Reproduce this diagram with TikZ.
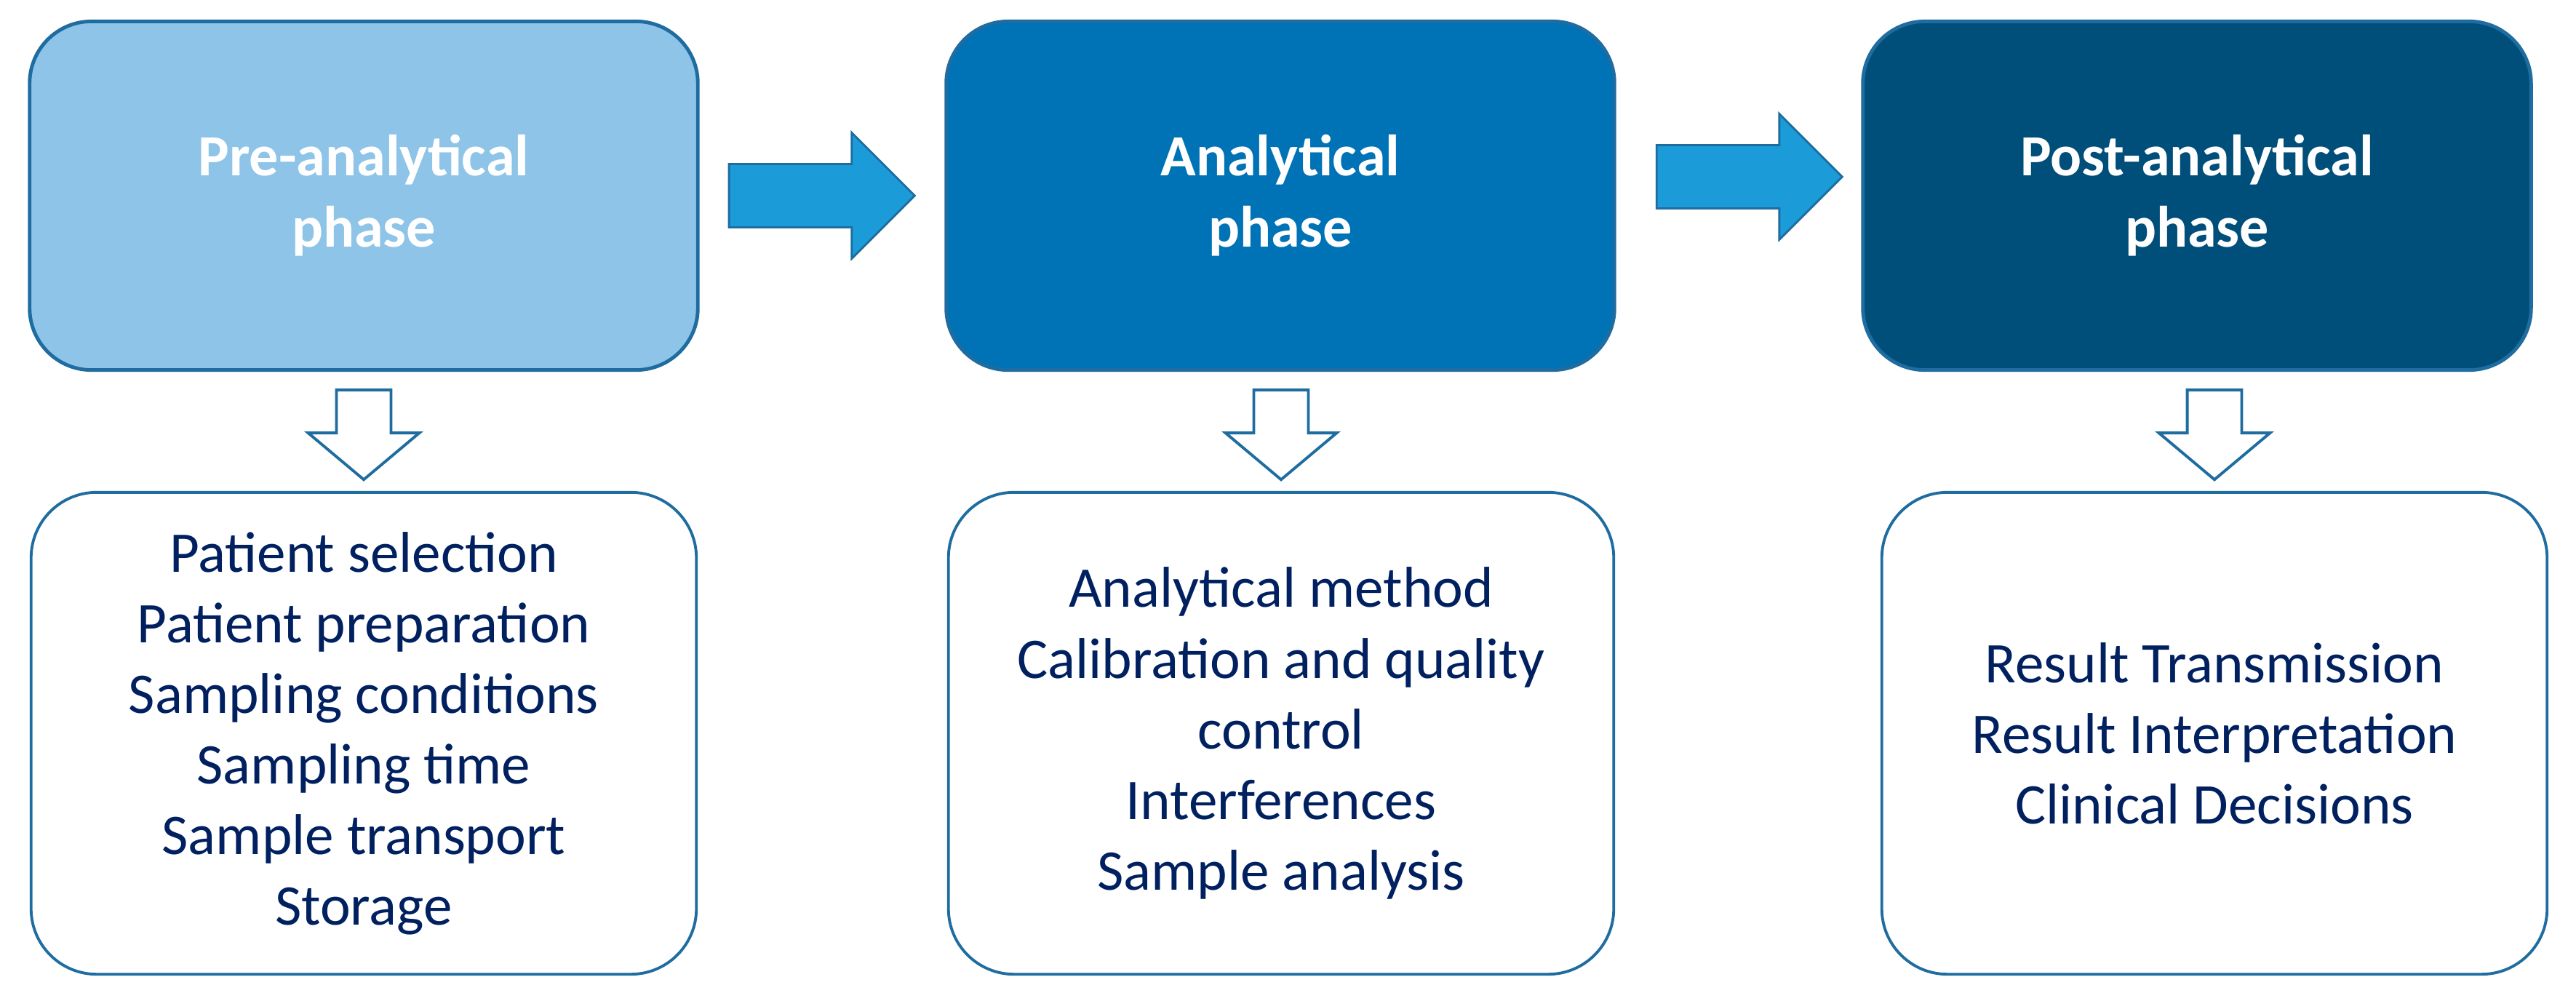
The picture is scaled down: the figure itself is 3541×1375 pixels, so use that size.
\documentclass[tikz,border=0pt]{standalone}
\usepackage{fontspec}
\setmainfont{Carlito}
\usetikzlibrary{shapes.arrows,calc}
\definecolor{phaseA}{RGB}{141,196,232}
\definecolor{phaseB}{RGB}{0,114,182}
\definecolor{phaseC}{RGB}{0,78,122}
\definecolor{edgeblue}{RGB}{31,108,160}
\definecolor{arrowblue}{RGB}{27,155,215}
\definecolor{navy}{RGB}{0,32,96}
\begin{document}
\begin{tikzpicture}[x=0.01cm, y=-0.01cm,
        phase/.style={rounded corners=0.85cm, draw=edgeblue, line width=1.4pt,
            minimum width=9.18cm, minimum height=4.79cm, align=center, text=white,
            font=\fontsize{22.8}{27.9}\selectfont\bfseries},
        steps/.style={rounded corners=0.9cm, draw=edgeblue, line width=1.1pt, fill=white,
            minimum width=9.14cm, minimum height=6.62cm, align=center, text=navy,
            font=\fontsize{22.5}{27.6}\selectfont},
        nextarrow/.style={single arrow, fill=arrowblue, draw=edgeblue, line width=0.8pt,
            minimum height=2.55cm, minimum width=1.7cm, single arrow head extend=0.43cm,
            single arrow tip angle=90, inner xsep=0pt, inner ysep=0.42cm},
        downarrow/.style={single arrow, fill=white, draw=edgeblue, line width=1.1pt,
            rotate=-90, minimum height=1.23cm, minimum width=1.49cm,
            single arrow head extend=0.39cm, single arrow tip angle=100,
            inner xsep=0pt, inner ysep=0.355cm}]
        \useasboundingbox (0,0) rectangle (3541,1375);
        \node[phase, fill=phaseA] (pre) at (500,269) {Pre-analytical\\phase};
        \node[phase, fill=phaseB] (ana) at (1760,269) {Analytical\\phase};
        \node[phase, fill=phaseC] (post) at (3020,269) {Post-analytical\\phase};
        \node[steps] (prelist) at (500,1008) {Patient selection\\Patient preparation\\
            Sampling conditions\\Sampling time\\Sample transport\\Storage};
        \node[steps] (analist) at (1761,1008) {Analytical method\\Calibration and quality\\
            control\\Interferences\\Sample analysis};
        \node[steps] (postlist) at (3044,1008) {Result Transmission\\Result Interpretation\\
            Clinical Decisions};
        \foreach \a/\b/\dx/\dy in {pre/ana/-22/0, ana/post/-7/-26}{
            \node[nextarrow] (\a-\b) at ($(\a.east)!0.5!(\b.west)+(\dx,\dy)$) {};}
        \foreach \a/\b in {pre/prelist, ana/analist, post/postlist}{
            \node[downarrow] (\a-\b) at ($(\a.south -| \b.north)!0.5!(\b.north)+(0,-11)$) {};}
    \end{tikzpicture}
\end{document}
